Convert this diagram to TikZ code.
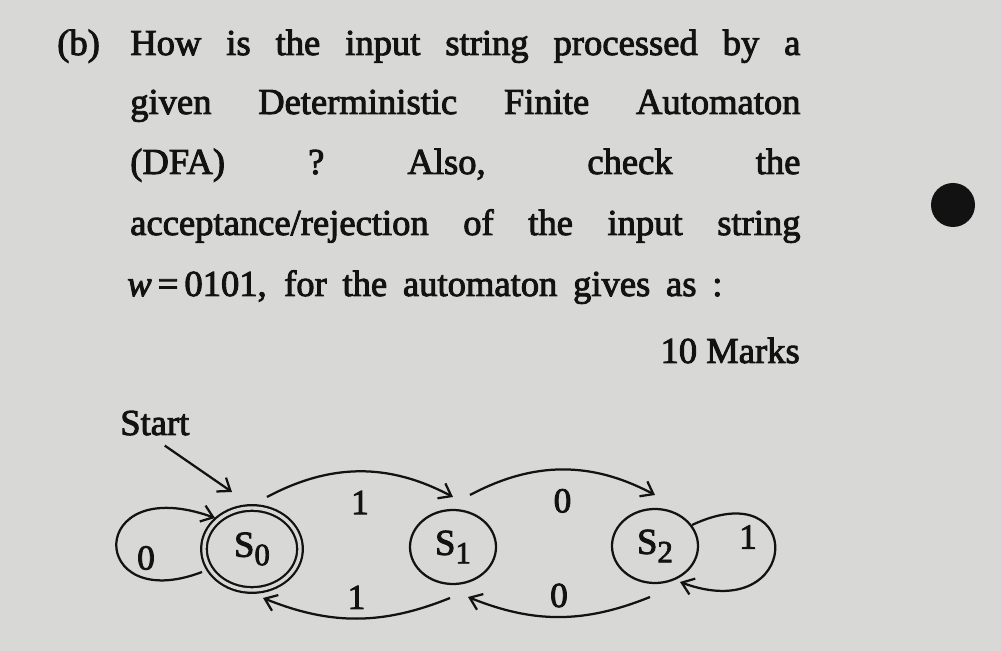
\documentclass[tikz,border=0pt]{standalone}
\usepackage{fontspec}
\setmainfont{Liberation Serif}[UprightFeatures={FakeBold=2.5}, ItalicFeatures={FakeBold=2.5}]
\usetikzlibrary{shapes.geometric, arrows.meta, calc}
\definecolor{paper}{RGB}{216,216,214}
\definecolor{ink}{RGB}{18,18,18}
\newcommand{\stname}[1]{S\raisebox{-6pt}{\fontsize{22}{22}\selectfont #1}}
\tikzset{
  state/.style={ellipse, draw=ink, line width=1.6pt, minimum width=2.15cm,
    minimum height=1.85cm, inner sep=0pt, font=\fontsize{26}{28}\selectfont, text=ink},
  accstate/.style={state, double=paper, double distance=2.4pt,
    minimum width=2.4cm, minimum height=2.05cm},
  edge/.style={-{Straight Barb[length=8pt,width=12pt]}, line width=1.6pt, draw=ink},
  elabel/.style={font=\fontsize{25}{28}\selectfont, text=ink, inner sep=0pt},
  qtext/.style={font=\fontsize{26}{30}\selectfont, text=ink, inner sep=0pt, anchor=base west}
}

\begin{document}
\begin{tikzpicture}[x=0.025cm, y=0.025cm]
  \fill[paper] (0,0) rectangle (1001,651);
  \useasboundingbox (0,0) rectangle (1001,651);

  % Question text
  \node[qtext] (qb) at (57,596) {(b)};
  \node[qtext] (q1) at (130,596) {\makebox[16.75cm][s]{How is the input string processed by a}};
  \node[qtext] (q2) at (130,537) {\makebox[16.75cm][s]{given Deterministic Finite Automaton}};
  \node[qtext] (q3) at (130,477) {\makebox[16.75cm][s]{(DFA) ? Also, check the}};
  \node[qtext] (q4) at (130,416) {\makebox[16.75cm][s]{acceptance/rejection of the input string}};
  \node[qtext] (q5) at (127,355) {\makebox[14.875cm][s]{\textit{w}\,=\,0101, for the automaton gives as :}};
  \node[qtext, anchor=base east] (marks) at (800,288) {10 Marks};

  % Punch hole
  \fill[ink] (953,446) circle (22);

  % Place states
  \node[accstate] (s0) at (252,102) {\stname{0}};
  \node[state] (s1) at (453,104) {\stname{1}};
  \node[state] (s2) at (655,105) {\stname{2}};

  % Start arrow
  \node[qtext] (start) at (120,216) {Start};
  \draw[edge] ($(start.south)+(10,-10)$) -- ($(s0)+(-20,57)$);

  % Transitions
  \draw[edge] ($(s0)+(15,52)$) to[bend left=28] node[elabel, midway, below=13pt] {1} ($(s1)+(0,50)$);
  \draw[edge] ($(s1)+(17,52)$) to[bend left=28] node[elabel, midway, below=13pt] {0} ($(s2)+(0,51)$);
  \draw[edge] ($(s2)+(-5,-51)$) to[bend left=22] node[elabel, midway, above=6pt] {0} ($(s1)+(15,-50)$);
  \draw[edge] ($(s1)+(-3,-51)$) to[bend left=22] node[elabel, midway, above=6pt] {1} ($(s0)+(11,-49)$);

  % Self loops
  \draw[edge] ($(s0)+(-50,-23)$) .. controls +(-115,-44) and +(-130,47) .. ($(s0)+(-37,31)$);
  \node[elabel] (l0) at ($(s0)+(-106,-9)$) {0};
  \draw[edge] ($(s2)+(37,21)$) .. controls +(115,54) and +(122,-45) .. ($(s2)+(25,-36)$);
  \node[elabel] (l2) at ($(s2)+(93,9)$) {1};
\end{tikzpicture}
\end{document}
